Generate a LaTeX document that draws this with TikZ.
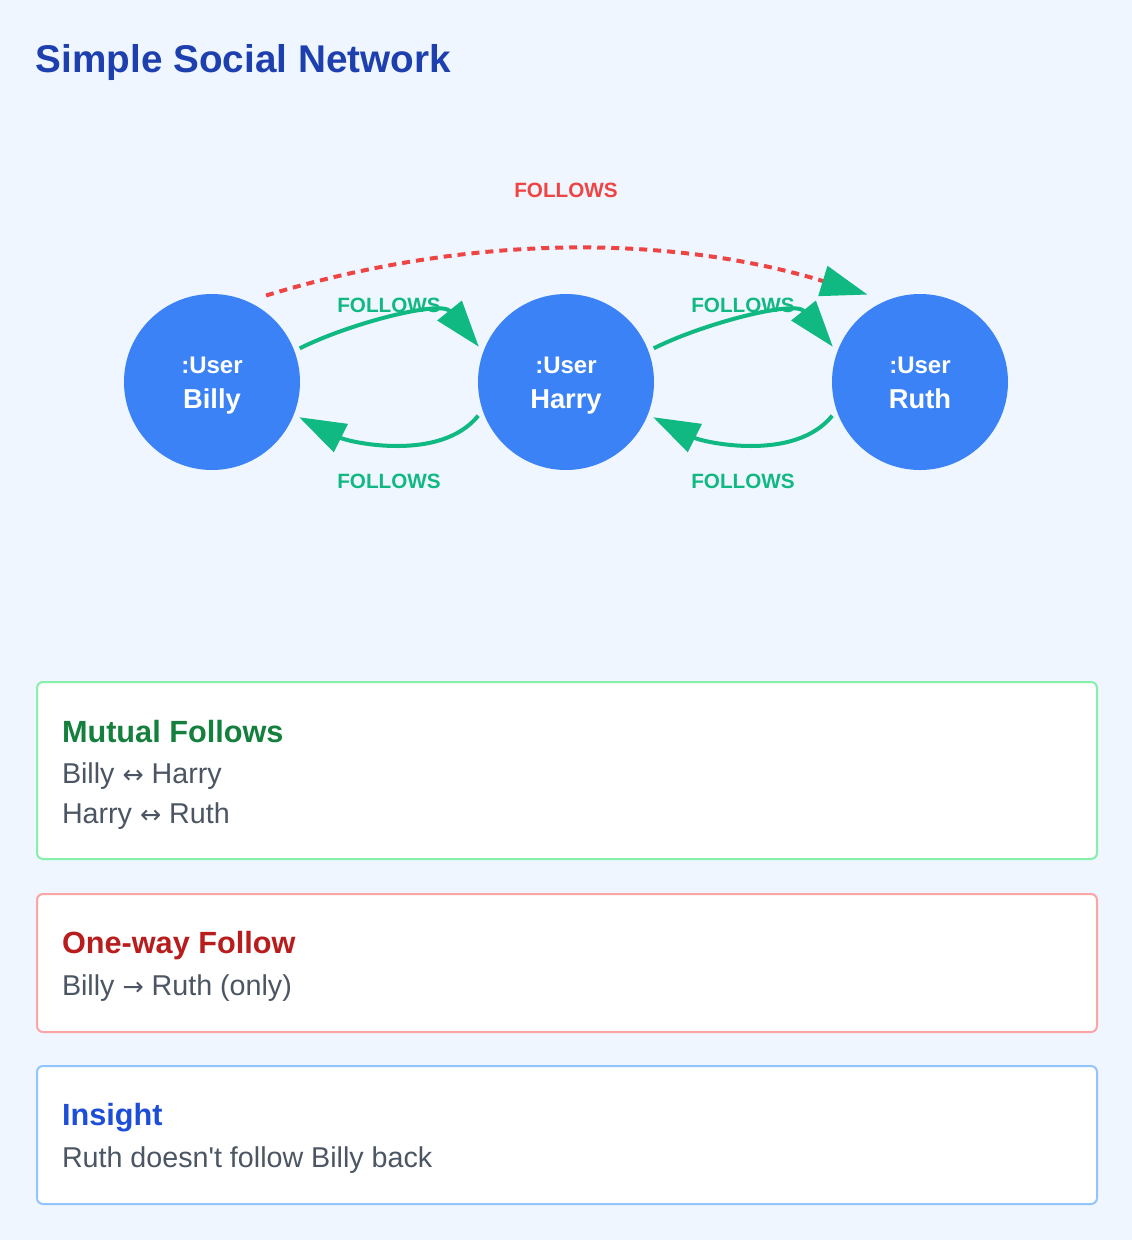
\documentclass[tikz,border=0pt]{standalone}
\usepackage{fontspec}
\setmainfont{Liberation Sans}
\newfontfamily\arrowfont{DejaVu Sans}
\usetikzlibrary{arrows.meta,calc}
\definecolor{bg}{HTML}{EFF6FF}
\definecolor{titleblue}{HTML}{1E40AF}
\definecolor{userblue}{HTML}{3B82F6}
\definecolor{egreen}{HTML}{10B981}
\definecolor{ered}{HTML}{EF4444}
\definecolor{gborder}{HTML}{86EFAC}
\definecolor{gtitle}{HTML}{15803D}
\definecolor{rborder}{HTML}{FCA5A5}
\definecolor{rtitle}{HTML}{B91C1C}
\definecolor{bborder}{HTML}{93C5FD}
\definecolor{btitle}{HTML}{1D4ED8}
\definecolor{bodygray}{HTML}{4B5563}
\tikzset{
  txt/.style={inner sep=0pt, outer sep=0pt},
  user/.style={circle, fill=userblue, minimum size=132pt, inner sep=0pt, outer sep=4.5pt},
  utop/.style={txt, anchor=base, text=white, font=\fontsize{18}{20}\selectfont\bfseries},
  uname/.style={txt, anchor=base, text=white, font=\fontsize{20.5}{22}\selectfont\bfseries},
  flab/.style={txt, anchor=base, font=\fontsize{15.5}{16}\selectfont\bfseries},
  gedge/.style={draw=egreen, line width=3pt, -{Triangle[length=35pt,width=23pt]}},
  redge/.style={draw=ered, line width=3pt, dash pattern=on 6pt off 4.5pt,
    -{Triangle[length=35pt,width=23pt,color=egreen]}},
  infobox/.style={anchor=north west, rectangle, rounded corners=4.5pt, fill=white,
    line width=1.5pt, minimum width=795pt, inner sep=0pt},
  btitle/.style={txt, anchor=base west, font=\fontsize{23}{24}\selectfont\bfseries},
  btext/.style={txt, anchor=base west, text=bodygray, font=\fontsize{21.5}{22}\selectfont},
}
\begin{document}
\begin{tikzpicture}[x=0.75pt,y=-0.75pt]
\fill[bg] (0,0) rectangle (1132,1240);
\useasboundingbox (0,0) rectangle (1132,1240);

\node[txt, anchor=base west, text=titleblue, font=\fontsize{29}{30}\selectfont\bfseries] (title) at (36,72) {Simple Social Network};

% users
\node[user] (billy) at (212,382) {};
\node[user] (harry) at (566,382) {};
\node[user] (ruth) at (920,382) {};
\node[utop] (billy-t) at (212,373) {:User};
\node[uname] (billy-n) at (212,408) {Billy};
\node[utop] (harry-t) at (566,373) {:User};
\node[uname] (harry-n) at (566,408) {Harry};
\node[utop] (ruth-t) at (920,373) {:User};
\node[uname] (ruth-n) at (920,408) {Ruth};

% edges
\draw[gedge] (billy.21.7) .. controls +(50,-25) and +(-38,-47) .. (harry.158.3);
\draw[gedge] (harry.201.7) .. controls +(-38,47) and +(50,25) .. (billy.338.3);
\draw[gedge] (harry.21.7) .. controls +(50,-25) and +(-38,-47) .. (ruth.158.3);
\draw[gedge] (ruth.201.7) .. controls +(-38,47) and +(50,25) .. (harry.338.3);
\draw[redge] ($(billy.center)!1.085!(billy.58.6)$) .. controls +(200,-61) and +(-200,-61) .. ($(ruth.center)!1.085!(ruth.121.4)$);

\node[flab, text=egreen] (l1) at (389,312) {FOLLOWS};
\node[flab, text=egreen] (l2) at (389,488) {FOLLOWS};
\node[flab, text=egreen] (l3) at (743,312) {FOLLOWS};
\node[flab, text=egreen] (l4) at (743,488) {FOLLOWS};
\node[flab, text=ered] (l5) at (566,197) {FOLLOWS};

% boxes
\node[infobox, draw=gborder, minimum height=132.75pt] (box1) at (36,681) {};
\node[btitle, text=gtitle] (box1-t) at (62,742) {Mutual Follows};
\node[btext] (box1-a) at (62,783) {Billy {\arrowfont\fontsize{19}{20}\selectfont ↔} Harry};
\node[btext] (box1-b) at (62,823) {Harry {\arrowfont\fontsize{19}{20}\selectfont ↔} Ruth};

\node[infobox, draw=rborder, minimum height=103.5pt] (box2) at (36,893) {};
\node[btitle, text=rtitle] (box2-t) at (62,953) {One-way Follow};
\node[btext] (box2-a) at (62,995) {Billy {\arrowfont\fontsize{19}{20}\selectfont →} Ruth (only)};

\node[infobox, draw=bborder, minimum height=103.5pt] (box3) at (36,1065) {};
\node[btitle, text=btitle] (box3-t) at (62,1125) {Insight};
\node[btext] (box3-a) at (62,1167) {Ruth doesn\textquotesingle t follow Billy back};
\end{tikzpicture}
\end{document}
